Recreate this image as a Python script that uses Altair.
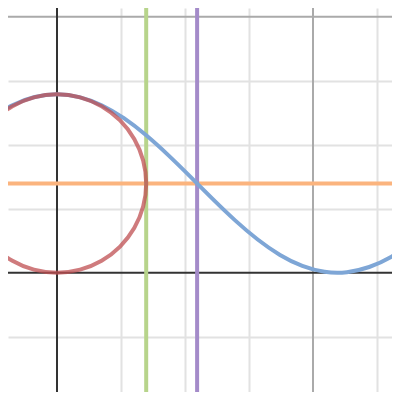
import altair as alt
import pandas as pd

# cosine curve y = 1 + cos(x)
curve_x = [-0.75, -0.5, -0.25, 0.0, 0.25, 0.5, 0.75, 1.0, 1.25, 1.5, 1.75, 2.0,
           2.25, 2.5, 2.75, 3.0, 3.25, 3.5, 3.75, 4.0]
curve_y = [1.732, 1.878, 1.969, 2.0, 1.969, 1.878, 1.732, 1.540, 1.315, 1.071,
           0.822, 0.584, 0.372, 0.199, 0.076, 0.010, 0.006, 0.064, 0.179, 0.346]

# unit circle centred at (0, 1), sampled every 15 degrees
circle_x = [1.0, 0.966, 0.866, 0.707, 0.5, 0.259, 0.0, -0.259, -0.5, -0.707, -0.866, -0.966,
            -1.0, -0.966, -0.866, -0.707, -0.5, -0.259, 0.0, 0.259, 0.5, 0.707, 0.866, 0.966]
circle_y = [1.0, 1.259, 1.5, 1.707, 1.866, 1.966, 2.0, 1.966, 1.866, 1.707, 1.5, 1.259,
            1.0, 0.741, 0.5, 0.293, 0.134, 0.034, 0.0, 0.034, 0.134, 0.293, 0.5, 0.741]

h_line_y = [1.0]          # orange horizontal line
green_x = [1.0]           # green vertical line
purple_x = [1.5708]       # purple vertical line (pi/2)

minor_grid_x = [0.7175, 1.435, 2.1525, 3.5875]
minor_grid_y = [-0.7175, 0.7175, 1.435, 2.1525]
major_grid_x = [2.87]
major_grid_y = [2.87]

x_dom = [-0.5493, 3.7556]
y_dom = [-1.3374, 2.9675]

xs = alt.Scale(domain=x_dom, nice=False, zero=False)
ys = alt.Scale(domain=y_dom, nice=False, zero=False)

def ax(vals):
    return alt.Axis(values=vals, grid=True, gridColor="#e2e2e2", gridWidth=2,
                    labels=False, ticks=False, domain=False, title=None)

base_pts = pd.DataFrame({"x": [0.0], "y": [0.0]})
grid = alt.Chart(base_pts).mark_point(opacity=0).encode(
    x=alt.X("x:Q", scale=xs, axis=ax(minor_grid_x)),
    y=alt.Y("y:Q", scale=ys, axis=ax(minor_grid_y)),
)

major_v = alt.Chart(pd.DataFrame({"x": major_grid_x})).mark_rule(
    color="#aaaaaa", strokeWidth=2).encode(x=alt.X("x:Q", scale=xs))
major_h = alt.Chart(pd.DataFrame({"y": major_grid_y})).mark_rule(
    color="#aaaaaa", strokeWidth=2).encode(y=alt.Y("y:Q", scale=ys))

axis_v = alt.Chart(pd.DataFrame({"x": [0.0]})).mark_rule(
    color="#333333", strokeWidth=2).encode(x=alt.X("x:Q", scale=xs))
axis_h = alt.Chart(pd.DataFrame({"y": [0.0]})).mark_rule(
    color="#333333", strokeWidth=2).encode(y=alt.Y("y:Q", scale=ys))

orange = alt.Chart(pd.DataFrame({"y": h_line_y})).mark_rule(
    color="#fbb47e", strokeWidth=4).encode(y=alt.Y("y:Q", scale=ys))
green = alt.Chart(pd.DataFrame({"x": green_x})).mark_rule(
    color="#b7d48b", strokeWidth=4).encode(x=alt.X("x:Q", scale=xs))
purple = alt.Chart(pd.DataFrame({"x": purple_x})).mark_rule(
    color="#a48bc9", strokeWidth=4).encode(x=alt.X("x:Q", scale=xs))

curve_df = pd.DataFrame({"x": curve_x, "y": curve_y, "i": range(len(curve_x))})
blue = alt.Chart(curve_df).mark_line(
    color="#7ea6d6", strokeWidth=4, interpolate="natural", clip=True).encode(
    x=alt.X("x:Q", scale=xs), y=alt.Y("y:Q", scale=ys), order="i:O")

circ_df = pd.DataFrame({"x": circle_x, "y": circle_y, "i": range(len(circle_x))})
red = alt.Chart(circ_df).mark_line(
    color="#bf4f52", strokeWidth=4, opacity=0.75, interpolate="cardinal-closed",
    clip=True).encode(
    x=alt.X("x:Q", scale=xs), y=alt.Y("y:Q", scale=ys), order="i:O")

chart = alt.layer(
    grid, major_v, major_h, axis_v, axis_h, orange, green, purple, blue, red
).properties(
    width=384, height=384, autosize=alt.AutoSizeParams(type="none"), padding=0
).configure_view(stroke=None)

chart.save("out.html", embed_options={"renderer": "svg", "actions": False})
